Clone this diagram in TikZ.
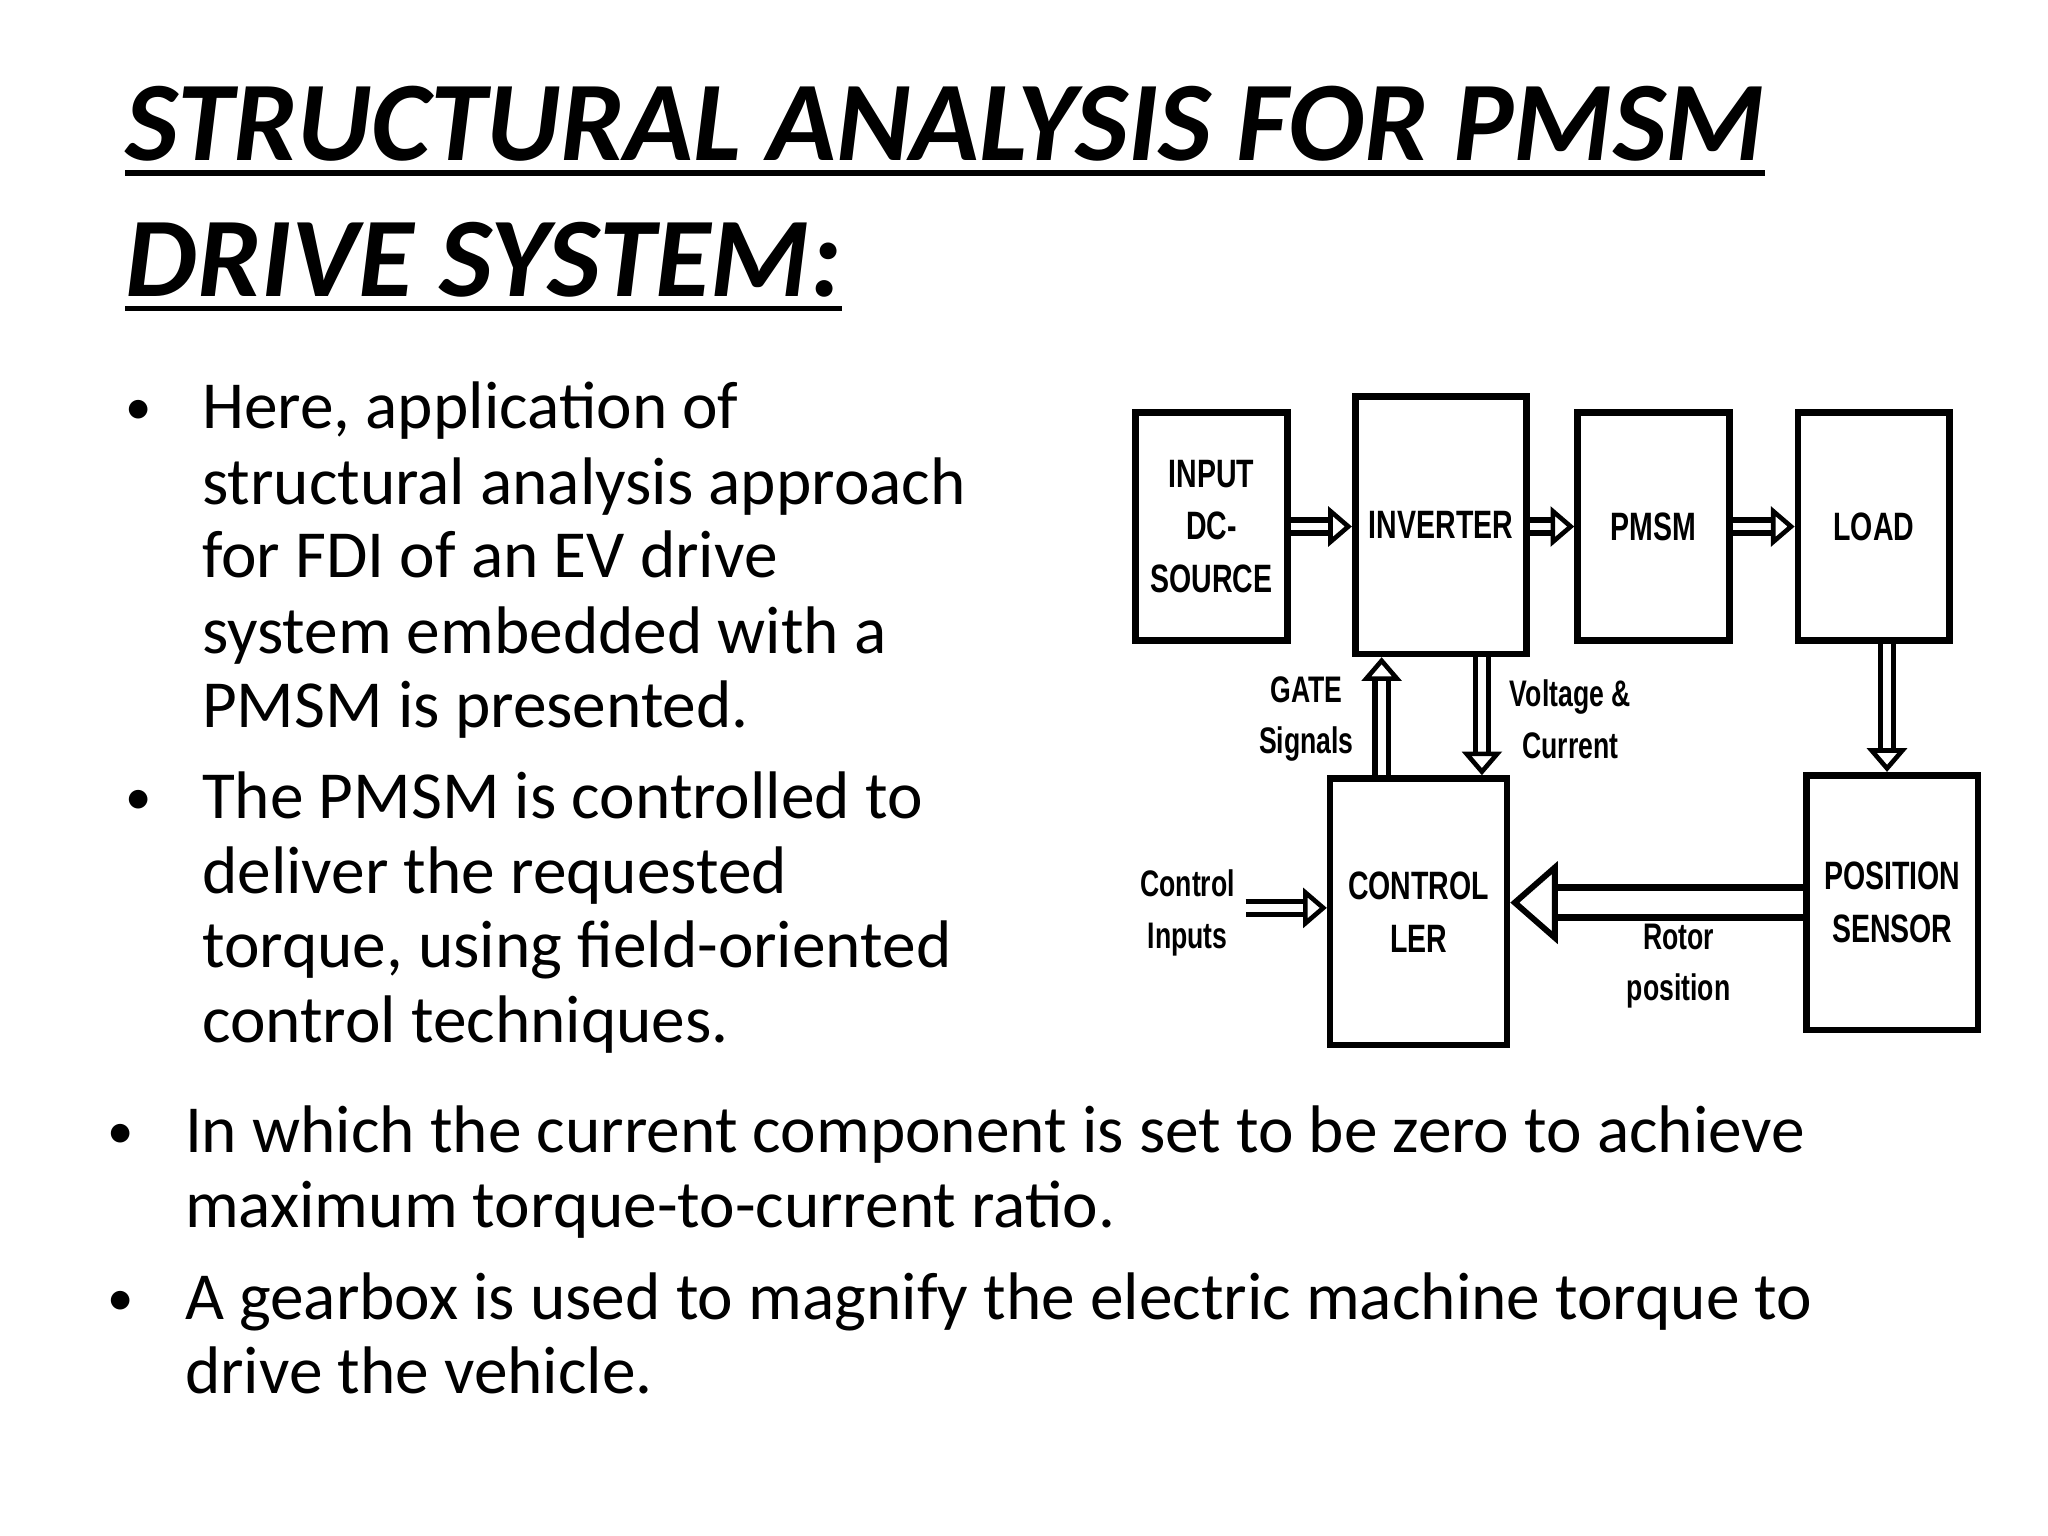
\documentclass[tikz,border=0pt]{standalone}
\usepackage{fontspec}
\setmainfont{Carlito}
\newfontfamily\diag[FakeStretch=0.72]{Liberation Sans}
\usetikzlibrary{arrows.meta}
\begin{document}
\begin{tikzpicture}[x=1pt,y=-1pt,
  box/.style={draw,line width=5pt,inner sep=0pt,align=center,font=\diag\bfseries\fontsize{30}{40}\selectfont},
  lbl/.style={align=center,font=\diag\bfseries\fontsize{28}{39}\selectfont},
  hol/.style={line width=4pt,double=white,double distance=6pt,-{Triangle[open,length=18pt,width=30pt,line width=3.5pt]}},
  big/.style={line width=5pt,double=white,double distance=18pt,-{Triangle[open,length=36pt,width=62pt,line width=4.5pt]}},
  txt/.style={anchor=base west,inner sep=0pt,font=\fontsize{51}{60}\selectfont},
  ttl/.style={anchor=base west,inner sep=0pt,font=\bfseries\itshape\fontsize{86}{100}\selectfont}]
\useasboundingbox[fill=white] (0,0) rectangle (1552,1164);
% title
\node[ttl] (t1) at (95,122) {STRUCTURAL ANALYSIS FOR PMSM};
\node[ttl] (t2) at (95,225) {DRIVE SYSTEM:};
\draw[line width=4pt] ([yshift=-9pt]t1.base west) -- ([yshift=-9pt]t1.base east);
\draw[line width=4pt] ([yshift=-9pt]t2.base west) -- ([yshift=-9pt]t2.base east);
% bullets
\foreach \y in {325,620} \node[txt,font=\fontsize{40}{50}\selectfont] at (95,\y-3) {•};
\foreach \y in {873,1000} \node[txt,font=\fontsize{40}{50}\selectfont] at (81,\y-3) {•};
\node[txt] (a1) at (153,325) {Here, application of};
\node[txt] (a2) at (153,382) {structural analysis approach};
\node[txt] (a3) at (153,438) {for FDI of an EV drive};
\node[txt] (a4) at (153,495) {system embedded with a};
\node[txt] (a5) at (153,551) {PMSM is presented.};
\node[txt] (b1) at (153,620) {The PMSM is controlled to};
\node[txt] (b2) at (153,677) {deliver the requested};
\node[txt] (b3) at (153,733) {torque, using field-oriented};
\node[txt] (b4) at (153,790) {control techniques.};
\node[txt] (c1) at (140,873) {In which the current component is set to be zero to achieve};
\node[txt] (c2) at (140,930) {maximum torque-to-current ratio.};
\node[txt] (d1) at (140,1000) {A gearbox is used to magnify the electric machine torque to};
\node[txt] (d2) at (140,1056) {drive the vehicle.};
% diagram
\node[box,minimum width=115pt,minimum height=173pt] (in) at (918,399) {INPUT\\DC-\\SOURCE};
\node[box,minimum width=130pt,minimum height=195pt] (inv) at (1092,398) {INVERTER};
\node[box,minimum width=115pt,minimum height=173pt] (pm) at (1253,399) {PMSM};
\node[box,minimum width=115pt,minimum height=173pt] (ld) at (1420,399) {LOAD};
\node[box,minimum width=134pt,minimum height=202pt] (ctl) at (1075,691) {CONTROL\\LER};
\node[box,minimum width=130pt,minimum height=193pt] (ps) at (1434,684) {POSITION\\SENSOR};
\draw[hol] (in.east) -- (in.east -| inv.west);
\draw[hol] (inv.east |- pm.west) -- (pm.west);
\draw[hol] (pm.east) -- (ld.west);
\draw[hol] ([xshift=-28pt]ctl.north) -- ([xshift=-28pt]ctl.north |- inv.south);
\draw[hol] ([xshift=31pt]inv.south) -- ([xshift=31pt]inv.south |- ctl.north);
\draw[hol] ([xshift=10pt]ld.south) -- ([xshift=10pt]ld.south |- ps.north);
\coordinate (ci) at (944,688);
\draw[hol] (ci) -- (ci -| ctl.west);
\draw[big] (ps.west) -- (ps.west -| ctl.east);
\node[lbl] (g) at (990,545) {GATE\\Signals};
\node[lbl] (v) at (1190,545) {Voltage \&\\Current};
\node[lbl] (c) at (900,692) {Control\\Inputs};
\node[lbl] (r) at (1272,732) {Rotor\\position};
\end{tikzpicture}
\end{document}
